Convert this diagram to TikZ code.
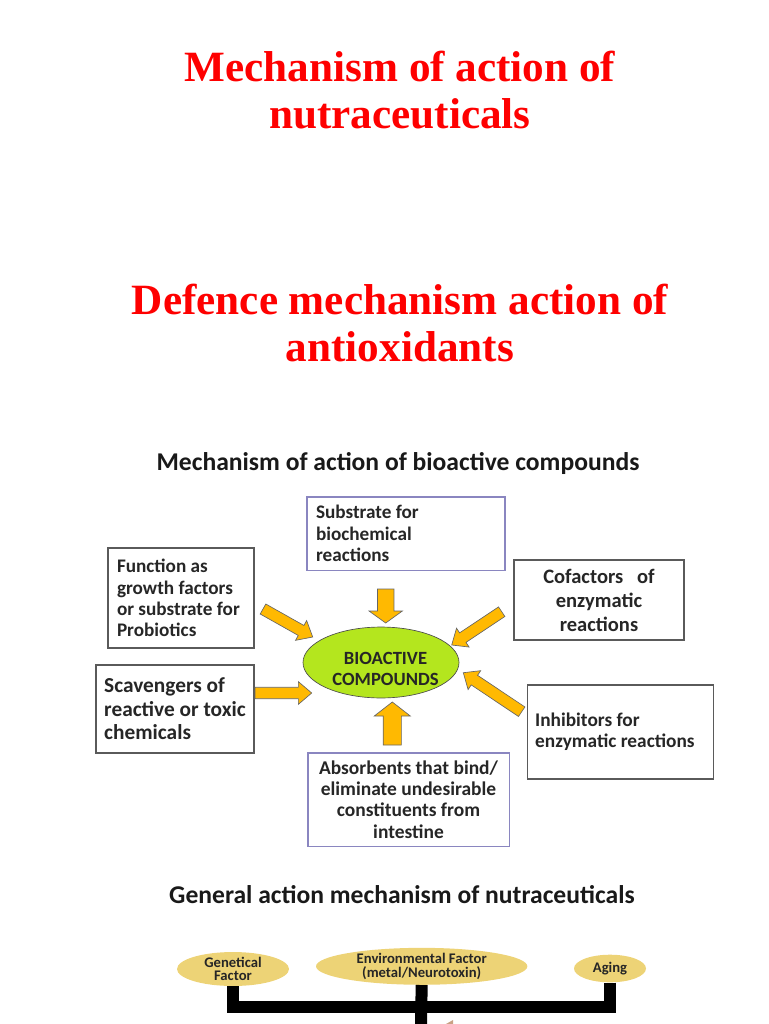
\documentclass[tikz,border=0pt]{standalone}
\usepackage{fontspec}
\setmainfont{Liberation Serif}
\newfontfamily\slidefont{Carlito}
\usetikzlibrary{calc}
\usetikzlibrary{shapes.geometric}
\definecolor{titlered}{HTML}{FE0000}
\definecolor{arroworange}{HTML}{FFB901}
\definecolor{bioactgreen}{HTML}{B4E61E}
\definecolor{factorsand}{HTML}{EDD376}
\definecolor{boxgray}{HTML}{5A5A5A}
\definecolor{boxpurple}{HTML}{8A86C0}
\definecolor{tipbrown}{HTML}{C9A184}
\tikzset{
  titletext/.style={text=titlered,font=\bfseries\fontsize{32.4}{35.5}\selectfont,align=center},
  headtext/.style={font=\slidefont\bfseries\fontsize{19.2}{22}\selectfont,text=black!90},
  infobox/.style={draw=boxgray,line width=0.8pt,fill=white,inner sep=0pt,text=black!85},
  blockarrow/.style n args={3}{fill=arroworange,draw=black!60,line width=0.5pt,line join=miter,
    to path={($(\tikztostart)!#1!90:(\tikztotarget)$)
      -- ($($(\tikztotarget)!#3!(\tikztostart)$)!#1!90:(\tikztotarget)$)
      -- ($($(\tikztotarget)!#3!(\tikztostart)$)!#2!90:(\tikztotarget)$)
      -- (\tikztotarget)
      -- ($($(\tikztotarget)!#3!(\tikztostart)$)!#2!-90:(\tikztotarget)$)
      -- ($($(\tikztotarget)!#3!(\tikztostart)$)!#1!-90:(\tikztotarget)$)
      -- ($(\tikztostart)!#1!-90:(\tikztotarget)$) -- cycle}},
  slantarrow/.style={blockarrow={4.3pt}{8.5pt}{10pt}},
  factor/.style={ellipse,fill=factorsand,inner sep=0pt,text=black!85,align=center,
    font=\slidefont\bfseries\fontsize{11}{10.2}\selectfont},
  bar/.style={line width=9pt,black}
}
\begin{document}
\begin{tikzpicture}[x=0.75pt,y=-0.75pt]
\useasboundingbox (0,0) rectangle (768,1024);
% titles
\node[titletext] (title1) at (400,90) {Mechanism of action of\\nutraceuticals};
\node[titletext] (title2) at (400,323) {Defence mechanism action of\\antioxidants};
\node[headtext] (head1) at (398,464) {Mechanism of action of bioactive compounds};
\node[headtext] (head2) at (402,895) {General action mechanism of nutraceuticals};
% boxes round the centre
\node[infobox,draw=boxpurple,minimum width=148.5pt,minimum height=54.8pt,text width=135pt,align=flush left,
  font=\slidefont\bfseries\fontsize{14.4}{16}\selectfont] (substrate) at (406,533.5) {Substrate for\\biochemical\\reactions};
\node[infobox,minimum width=109.5pt,minimum height=75pt,text width=96pt,align=flush left,
  font=\slidefont\bfseries\fontsize{14.4}{15.9}\selectfont] (growth) at (181,598) {Function as\\growth factors\\or substrate for\\Probiotics};
\node[infobox,minimum width=118.5pt,minimum height=66pt,align=left,
  font=\slidefont\bfseries\fontsize{16}{17.7}\selectfont] (scavenger) at (175,709) {Scavengers of\\reactive or toxic\\chemicals};
\node[infobox,minimum width=127.5pt,minimum height=60pt,text width=120pt,align=flush center,
  font=\slidefont\bfseries\fontsize{15.4}{18}\selectfont] (cofactor) at (599,600) {Cofactors~~ of\\enzymatic\\reactions};
\node[infobox,minimum width=140pt,minimum height=70.5pt,text width=128pt,align=flush left,
  font=\slidefont\bfseries\fontsize{14.5}{16}\selectfont] (inhibitor) at (620.5,732) {Inhibitors for\\enzymatic reactions};
\node[infobox,draw=boxpurple,minimum width=150.8pt,minimum height=69.8pt,text width=145pt,align=flush center,
  font=\slidefont\bfseries\fontsize{14.6}{16}\selectfont] (absorbent) at (408.5,799.5) {Absorbents that bind/\\eliminate undesirable\\constituents from\\intestine};
\node[ellipse,draw=black!70,fill=bioactgreen,line width=0.5pt,minimum width=117pt,minimum height=53.2pt,inner sep=0pt] (bioactive) at (381,662.5) {};
\node[align=center,text=black!85,font=\slidefont\bfseries\fontsize{14}{16}\selectfont] (bioactivetext) at (385.5,669) {BIOACTIVE\\COMPOUNDS};
% arrow ends
\coordinate (substrate-out) at (385.7,589);
\coordinate (substrate-in) at (385.7,623);
\coordinate (growth-out) at (263,609);
\coordinate (growth-in) at (312.7,637);
\coordinate (scavenger-out) at (255,693);
\coordinate (scavenger-in) at (311.7,693);
\coordinate (cofactor-out) at (501.7,611.7);
\coordinate (cofactor-in) at (451.7,645);
\coordinate (inhibitor-out) at (521.7,711.7);
\coordinate (inhibitor-in) at (463.3,672.7);
\coordinate (absorbent-out) at (392.3,745);
\coordinate (absorbent-in) at (392.3,702);
\draw[blockarrow={6.2pt}{12.5pt}{9pt}] (substrate-out) to (substrate-in);
\draw[slantarrow] (growth-out) to (growth-in);
\draw[slantarrow] (scavenger-out) to (scavenger-in);
\draw[slantarrow] (cofactor-out) to (cofactor-in);
\draw[slantarrow] (inhibitor-out) to (inhibitor-in);
\draw[blockarrow={6.8pt}{13.5pt}{10.5pt}] (absorbent-out) to (absorbent-in);
% lower tree
\node[factor,minimum width=84pt,minimum height=20.3pt] (genetic) at (233,969) {Genetical\\Factor};
\node[factor,minimum width=158.5pt,minimum height=26.5pt] (environment) at (421.7,966.3) {Environmental Factor\\(metal/Neurotoxin)};
\node[factor,minimum width=54pt,minimum height=20.7pt] (aging) at (610,968.5) {Aging};
\coordinate (junction) at (421,1007);
\coordinate (stem) at (421,1024);
\draw[bar] (genetic.south) |- (junction);
\draw[bar] (aging.south) |- (junction);
\draw[bar] (environment.south) -- (stem);
\fill[tipbrown] (446,1024) -- (453,1020) -- (453,1024) -- cycle;
\end{tikzpicture}
\end{document}
